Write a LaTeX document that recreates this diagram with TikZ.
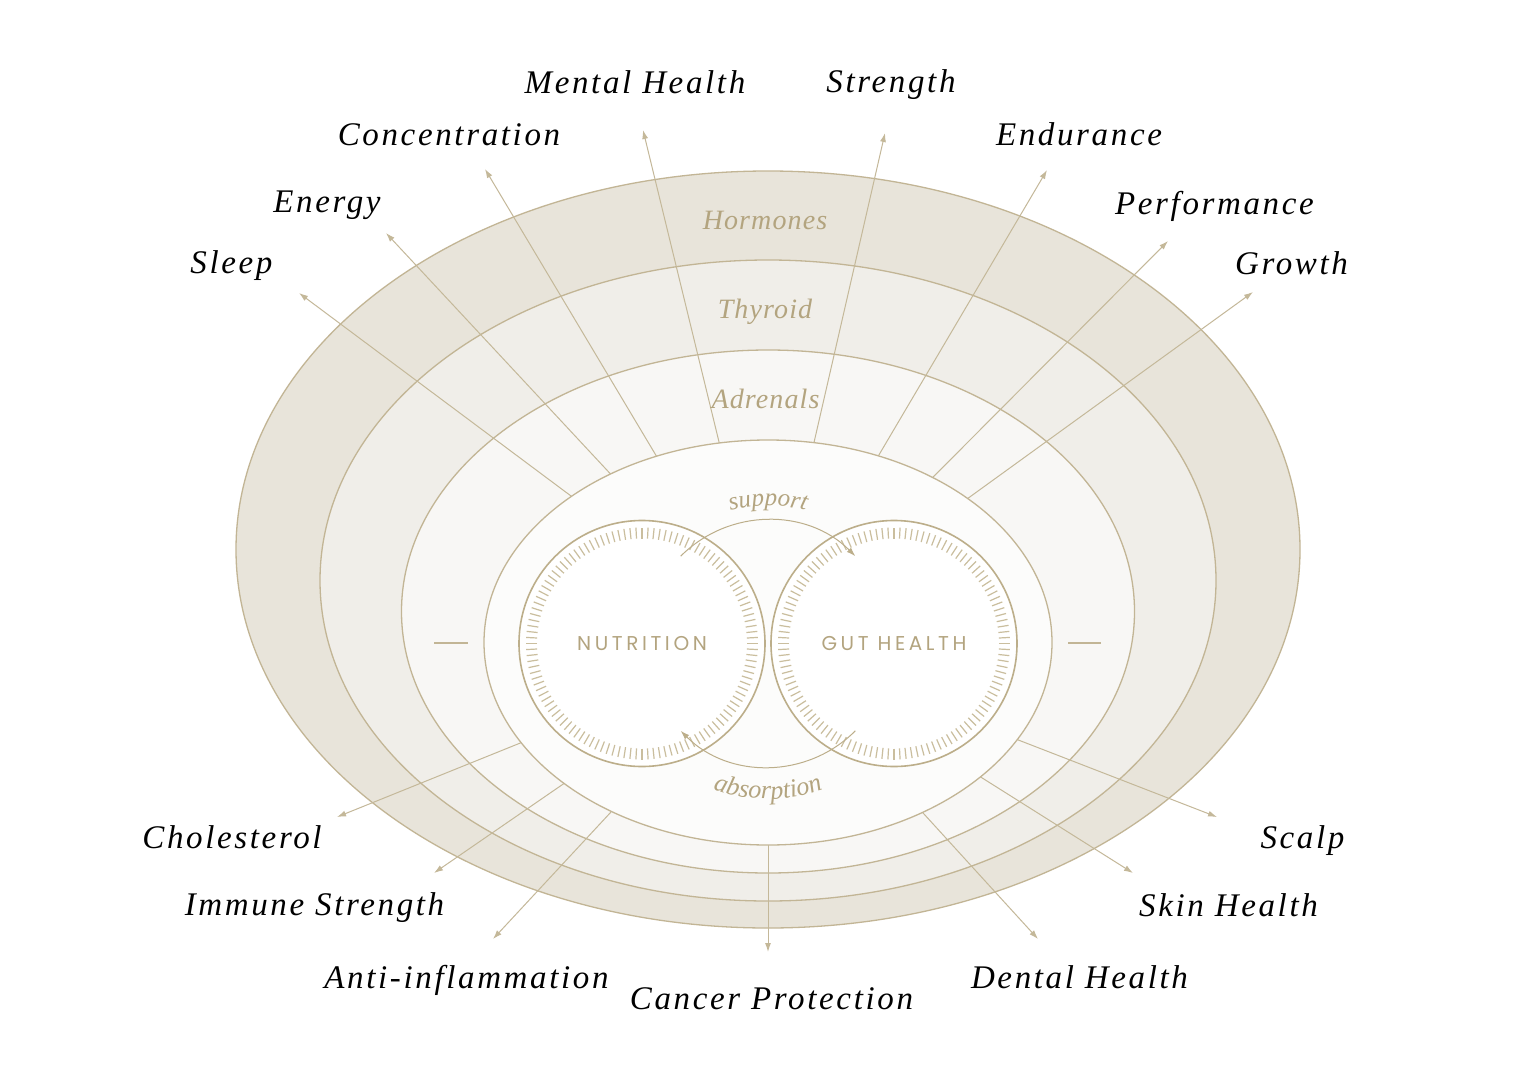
\documentclass[tikz,border=0pt]{standalone}
\usepackage{fontspec}
\setmainfont{Liberation Serif}
\newfontfamily\labfont{Liberation Serif}[LetterSpace=8]
\newfontfamily\ringfont{Liberation Serif}[LetterSpace=4]
\newfontfamily\capsfont{Poppins}[LetterSpace=18]
\usetikzlibrary{arrows.meta,decorations.text,calc}
\definecolor{bandA}{HTML}{E8E4DA}
\definecolor{bandB}{HTML}{F0EEE9}
\definecolor{bandC}{HTML}{F8F7F5}
\definecolor{bandD}{HTML}{FCFCFB}
\definecolor{ringc}{HTML}{C2B595}
\definecolor{arrc}{HTML}{C4B899}
\definecolor{circc}{HTML}{BCAE8A}
\definecolor{tickc}{HTML}{CABE9E}
\definecolor{goldt}{HTML}{B3A47F}
\newcommand\supfont{\color{goldt}\itshape\fontsize{12.5pt}{14pt}\selectfont}
\newcommand\absfont{\color{goldt}\itshape\fontsize{13pt}{15pt}\selectfont}
\tikzset{
  ringline/.style={draw=ringc, line width=0.65pt},
  arr/.style={draw=arrc, line width=0.5pt, -{Latex[length=4.5pt,width=3pt]}},
  arcl/.style={draw=circc, line width=0.5pt, -{Latex[length=4.5pt,width=3pt]}},
  lab/.style={font=\labfont\itshape\fontsize{16.5pt}{20pt}\selectfont, text=black, inner sep=0pt, anchor=base},
  ringlab/.style={font=\ringfont\itshape\fontsize{14pt}{16pt}\selectfont, text=goldt, inner sep=0pt, anchor=base},
  capslab/.style={font=\capsfont\fontsize{10pt}{12pt}\selectfont, text=goldt},
  circ/.style={circle, draw=circc, line width=0.8pt, fill=white, minimum size=123pt, inner sep=0pt},
  tickl/.style={draw=tickc, line width=0.6pt},
  dashl/.style={draw=ringc, line width=0.6pt}
}
\begin{document}
\begin{tikzpicture}[x=0.5pt,y=-0.5pt]
\useasboundingbox (0,0) rectangle (1536,1086);
\fill[white] (0,0) rectangle (1536,1086);
% bands
\path[ringline, fill=bandA] (768,549.5) ellipse [x radius=266pt, y radius=189.25pt];
\path[ringline, fill=bandB] (768,580.5) ellipse [x radius=224pt, y radius=160.25pt];
\path[ringline, fill=bandC] (768,611.5) ellipse [x radius=183.25pt, y radius=130.75pt];
% radial connectors
\coordinate (c) at (768,643);
\coordinate (tSleep) at (299,293);
\coordinate (tEnergy) at (386,233);
\coordinate (tConc) at (485,169);
\coordinate (tMental) at (643,130);
\coordinate (tStrength) at (885,133);
\coordinate (tEndur) at (1047,170);
\coordinate (tPerf) at (1168,241);
\coordinate (tGrowth) at (1253,292);
\coordinate (tChol) at (337,817);
\coordinate (tImmune) at (434,873);
\coordinate (tAnti) at (493,939);
\coordinate (tCancer) at (768,952);
\coordinate (tDental) at (1038,939);
\coordinate (tSkin) at (1133,873);
\coordinate (tScalp) at (1217,817);
\foreach \t in {tSleep,tEnergy,tConc,tMental,tStrength,tEndur,tPerf,tGrowth,tChol,tImmune,tAnti,tCancer,tDental,tSkin,tScalp}
  \draw[arr] (c) -- (\t);
% inner ellipse
\path[ringline, fill=bandD] (768,642.5) ellipse [x radius=142pt, y radius=101.25pt];
% ring labels
\node[ringlab] (hormones) at (765,229) {Hormones};
\node[ringlab] (thyroid) at (765,318) {Thyroid};
\node[ringlab] (adrenals) at (765.5,408) {Adrenals};
\draw[dashl] (434,643) -- (468,643);
\draw[dashl] (1068,643) -- (1101,643);
% circles
\node[circ, capslab] (nut) at (642,643.5) {NUTRITION};
\node[circ, capslab] (gut) at (894,643.5) {GUT HEALTH};
\foreach \a in {0,3,...,357} {
  \draw[tickl] ($(nut)+(\a:52.5pt)$) -- ($(nut)+(\a:58pt)$);
  \draw[tickl] ($(gut)+(\a:52.5pt)$) -- ($(gut)+(\a:58pt)$);
}
\coordinate (mid) at (768,643.5);
\draw[arcl] ($(mid)+(135:61.75pt)$) arc[start angle=135, end angle=45, radius=61.75pt];
\draw[arcl] ($(mid)+(-45:61.75pt)$) arc[start angle=-45, end angle=-135, radius=61.75pt];
\path[decorate, decoration={text along path, text align=center, text={|\supfont|support}}]
  ($(mid)+(120:69pt)$) arc[start angle=120, end angle=60, radius=69pt];
\path[decorate, decoration={text along path, text align=center, text={|\absfont|absorption}}]
  ($(mid)+(235:77.75pt)$) arc[start angle=235, end angle=305, radius=77.75pt];
% outer labels
\node[lab] (sleep) at (231.5,273) {Sleep};
\node[lab] (energy) at (327,213) {Energy};
\node[lab] (conc) at (449,146) {Concentration};
\node[lab] (mental) at (635,94) {Mental Health};
\node[lab] (strength) at (891,93) {Strength};
\node[lab] (endur) at (1079,146) {Endurance};
\node[lab] (perf) at (1214.5,214) {Performance};
\node[lab] (growth) at (1291.5,274) {Growth};
\node[lab] (chol) at (232,848) {Cholesterol};
\node[lab] (immune) at (314.5,915) {Immune Strength};
\node[lab] (anti) at (466.5,988) {Anti-inflammation};
\node[lab] (cancer) at (771.5,1009) {Cancer Protection};
\node[lab] (dental) at (1079.5,988) {Dental Health};
\node[lab] (skin) at (1228.5,916) {Skin Health};
\node[lab] (scalp) at (1302.5,848) {Scalp};
\end{tikzpicture}
\end{document}
